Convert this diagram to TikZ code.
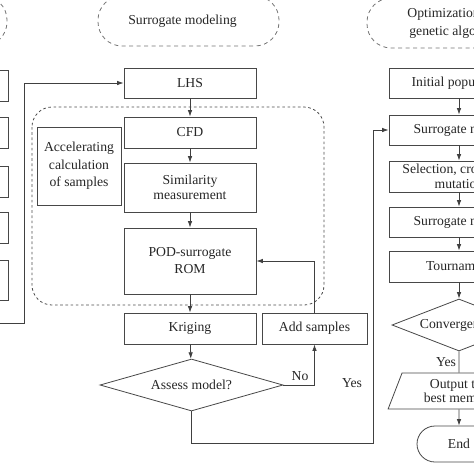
\documentclass[tikz,border=0pt]{standalone}
\usepackage{fontspec}
\setmainfont{Liberation Serif}
\usetikzlibrary{arrows.meta,shapes.geometric}
\begin{document}
\begin{tikzpicture}[x=1pt,y=-1pt,
  every node/.style={font=\fontsize{13.7}{16.5}\selectfont, text=black!85},
  box/.style={draw=black!72, line width=0.8pt, inner sep=0pt, align=center, rectangle},
  arr/.style={draw=black!75, line width=0.8pt, -{Latex[length=6.5pt,width=4.5pt]}},
  ln/.style={draw=black!75, line width=0.8pt},
  stad/.style={draw=black!55, line width=0.8pt, dash pattern=on 4pt off 3.5pt, rounded corners=24pt, inner sep=0pt, align=center, minimum height=50pt, rectangle},
  dia/.style={draw=black!72, line width=0.8pt, diamond, inner sep=0pt, shape aspect=3.5},
  lbl/.style={inner sep=0pt}
]
\clip (0,0) rectangle (474,474);
\useasboundingbox (0,0) rectangle (474,474);

% headers
\node[stad, minimum width=174pt] (hl) at (-80,21) {};
\node[stad, minimum width=181pt] (hs) at (188.5,21) {};
\node[lbl] (hstext) at (182.5,21) {Surrogate modeling};
\node[stad, minimum width=181pt, font=\fontsize{13.7}{18}\selectfont] (ho) at (457.5,23) {Optimization with\\genetic algorithm};

% left column (cut off)
\node[box, minimum width=120pt, minimum height=31pt] (l1) at (-52,85.5) {};
\node[box, minimum width=120pt, minimum height=31pt] (l2) at (-52,132.5) {};
\node[box, minimum width=120pt, minimum height=31pt] (l3) at (-52,181.5) {};
\node[box, minimum width=120pt, minimum height=31pt] (l4) at (-52,227.5) {};
\node[box, minimum width=120pt, minimum height=40pt] (l5) at (-52,280) {};
\coordinate (lstart) at (-10,323);
\coordinate (lcorner) at (24,323);

% surrogate modeling column
\node[box, minimum width=132pt, minimum height=30pt] (lhs) at (190,83) {LHS};
\draw[black!70, line width=0.8pt, dash pattern=on 2.6pt off 2.6pt, rounded corners=20pt] (32,107) rectangle (324,305);
\node[box, minimum width=132pt, minimum height=31pt] (cfd) at (190,132.5) {CFD};
\node[box, minimum width=132pt, minimum height=49pt, font=\fontsize{13.7}{15.5}\selectfont] (sim) at (190,187.5) {Similarity\\measurement};
\node[box, minimum width=132pt, minimum height=66pt, font=\fontsize{13.7}{17}\selectfont] (pod) at (190,261) {POD-surrogate\\ROM};
\node[box, minimum width=84pt, minimum height=78pt, font=\fontsize{13.7}{17.5}\selectfont] (acc) at (79,166) {Accelerating\\calculation\\of samples};
\node[box, minimum width=132pt, minimum height=31pt] (krig) at (190,328.5) {Kriging};
\node[box, minimum width=105pt, minimum height=31pt] (add) at (314.5,328.5) {Add samples};
\node[dia, minimum width=183pt, minimum height=52pt] (assess) at (191.5,385) {Assess model?};
\coordinate (ycorner) at (373,443);

% optimization column
\node[box, minimum width=140pt, minimum height=30pt] (init) at (459,83) {Initial population};
\node[box, minimum width=140pt, minimum height=30pt] (sm1) at (459,130) {Surrogate model};
\node[box, minimum width=140pt, minimum height=31pt, font=\fontsize{13.7}{14.5}\selectfont] (sel) at (459,176.5) {Selection, crossover,\\mutation};
\node[box, minimum width=140pt, minimum height=30pt] (sm2) at (459,222) {Surrogate model};
\node[box, minimum width=140pt, minimum height=31pt] (tour) at (459,266.5) {Tournament};
\node[dia, shape aspect=2.6, minimum width=134pt, minimum height=52pt] (conv) at (459,325) {Convergence?};
\node[draw=black!72, line width=0.8pt, trapezium, trapezium left angle=70, trapezium right angle=110, trapezium stretches=true, minimum width=142pt, minimum height=36pt, inner sep=0pt, align=center, font=\fontsize{13.7}{14}\selectfont] (out) at (459,391) {Output the\\best member};
\node[draw=black!72, line width=0.8pt, rectangle, rounded corners=18pt, minimum width=84pt, minimum height=36pt, inner sep=0pt] (end) at (459,444) {End};

% connectors
\draw[arr] (lstart) -- (lcorner) |- (lhs.west);
\draw[arr] (lhs) -- (cfd);
\draw[arr] (cfd) -- (sim);
\draw[arr] (sim) -- (pod);
\draw[arr] (pod) -- (krig);
\draw[arr] (krig) -- (assess);
\draw[arr] (assess.east) -| (add.south);
\draw[arr] (add.north) |- (pod.east);
\draw[arr] (assess.south) |- (ycorner) |- (sm1.west);
\node[lbl] (no) at (300,376) {No};
\node[lbl] (yes1) at (352,383) {Yes};

\draw[arr] (init) -- (sm1);
\draw[arr] (sm1) -- (sel);
\draw[arr] (sel) -- (sm2);
\draw[arr] (sm2) -- (tour);
\draw[arr] (tour) -- (conv);
\draw[ln] (conv.south) -- (out.north);
\node[lbl] (yes2) at (446,362) {Yes};
\draw[arr] (out) -- (end);
\end{tikzpicture}
\end{document}
